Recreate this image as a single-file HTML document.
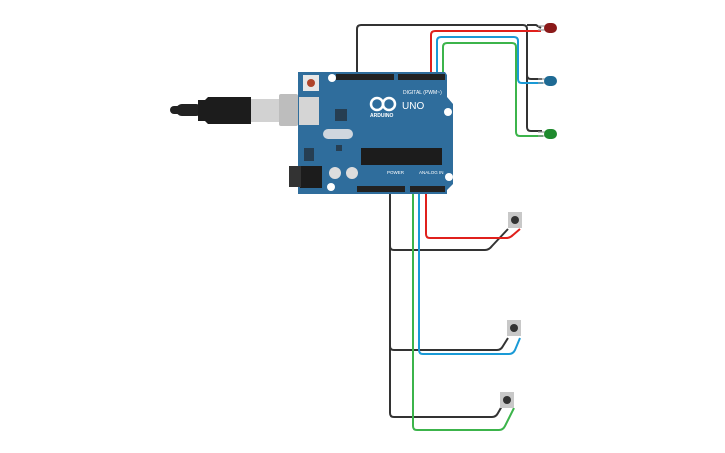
<!DOCTYPE html>
<html><head><style>body{margin:0;background:#fff}svg{display:block}</style></head>
<body>
<svg width="725" height="453" viewBox="0 0 725 453" xmlns="http://www.w3.org/2000/svg" font-family="Liberation Sans, sans-serif">
<g fill="none" stroke-width="2" stroke-linejoin="round">
<path d="M357 76 V29 Q357 25 361 25 H523 Q527 25 527 29 V127 Q527 131 531 131 H542" stroke="#333"/>
<path d="M527 75 Q527 79 531 79 H542" stroke="#333"/>
<path d="M527 25 H536 L541 28" stroke="#333"/>
<path d="M431 76 V35 Q431 31 435 31 H541" stroke="#e0201c"/>
<path d="M437 76 V41 Q437 37 441 37 H514 Q518 37 518 41 V79 Q518 83 522 83 H543" stroke="#1a9ad6"/>
<path d="M443 76 V47 Q443 43 447 43 H512 Q516 43 516 47 V132 Q516 136 520 136 H543" stroke="#3cb44b"/>
<path d="M390 190 V413 Q390 417 394 417 H492 Q496 417 498 413 L502 406" stroke="#333"/>
<path d="M390 246 Q390 250 394 250 H485 Q489 250 492 246 L508 229" stroke="#333"/>
<path d="M390 346 Q390 350 394 350 H497 Q501 350 503 346 L508 338" stroke="#333"/>
<path d="M426 190 V234 Q426 238 430 238 H506 Q510 238 513 235 L520 229" stroke="#e0201c"/>
<path d="M419 190 V350 Q419 354 423 354 H509 Q513 354 515 350 L520 338" stroke="#1a9ad6"/>
<path d="M413 190 V426 Q413 430 417 430 H499 Q503 430 505 426 L514 408" stroke="#3cb44b"/>
</g>
<g stroke="#999" stroke-width="1.2"><line x1="538" y1="26" x2="546" y2="26"/><line x1="538" y1="30" x2="546" y2="30"/><line x1="538" y1="79" x2="546" y2="79"/><line x1="538" y1="83" x2="546" y2="83"/><line x1="538" y1="132" x2="546" y2="132"/><line x1="538" y1="136" x2="546" y2="136"/></g>
<rect x="544" y="23" width="13" height="10" rx="5" fill="#8b1a1a"/>
<rect x="544" y="76" width="13" height="10" rx="5" fill="#1e6a94"/>
<rect x="544" y="129" width="13" height="10" rx="5" fill="#1f8a2e"/>
<g>
<rect x="508" y="212" width="14" height="16" fill="#c8c8c8"/><circle cx="515" cy="220" r="4" fill="#333"/>
<rect x="507" y="320" width="14" height="16" fill="#c8c8c8"/><circle cx="514" cy="328" r="4" fill="#333"/>
<rect x="500" y="392" width="14" height="16" fill="#c8c8c8"/><circle cx="507" cy="400" r="4" fill="#333"/>
</g>
<rect x="176" y="104" width="26" height="12" rx="6" fill="#222"/>
<rect x="170" y="106" width="12" height="8" rx="4" fill="#222"/>
<path d="M198 100 H205 L208 97 H251 V124 H208 L205 121 H198 Z" fill="#1c1c1c"/>
<rect x="251" y="99" width="30" height="23" fill="#d2d2d2"/>
<rect x="279" y="94" width="19" height="32" rx="2" fill="#bdbdbd"/>
<path d="M298 72 H445 L447 75 V97 L453 104 V184 L447 190 V194 H298 Z" fill="#2f6d9c"/>
<rect x="299" y="97" width="20" height="28" fill="#d5d5d5"/>
<rect x="303" y="75" width="16" height="16" fill="#e7e7e7"/><circle cx="311" cy="83" r="4" fill="#b0452b"/>
<circle cx="332" cy="78" r="4" fill="#fff"/><circle cx="448" cy="112" r="4" fill="#fff"/><circle cx="449" cy="177" r="4" fill="#fff"/><circle cx="331" cy="187" r="4" fill="#fff"/>
<rect x="336" y="74" width="58" height="6" fill="#222"/><rect x="398" y="74" width="47" height="6" fill="#222"/>
<rect x="357" y="186" width="48" height="6" fill="#222"/><rect x="410" y="186" width="35" height="6" fill="#222"/>
<text x="403" y="94" font-size="5" fill="#fff">DIGITAL (PWM~)</text>
<circle cx="377" cy="104" r="6" fill="none" stroke="#fff" stroke-width="2.5"/><circle cx="389" cy="104" r="6" fill="none" stroke="#fff" stroke-width="2.5"/>
<text x="370" y="117" font-size="5" font-weight="bold" fill="#fff">ARDUINO</text>
<text x="402" y="109" font-size="10" fill="#fff">UNO</text>
<rect x="335" y="109" width="12" height="12" fill="#263e52"/>
<rect x="323" y="129" width="30" height="10" rx="5" fill="#cfd6de"/>
<rect x="361" y="148" width="81" height="17" fill="#1c1c1c"/>
<rect x="300" y="166" width="22" height="22" fill="#1c1c1c"/><rect x="289" y="166" width="12" height="21" fill="#333"/>
<circle cx="335" cy="173" r="6" fill="#ddd"/><circle cx="352" cy="173" r="6" fill="#ddd"/>
<rect x="304" y="148" width="10" height="13" fill="#263e52"/>
<rect x="336" y="145" width="6" height="6" fill="#263e52"/>
<text x="387" y="174" font-size="4.5" fill="#fff">POWER</text><text x="419" y="174" font-size="4.5" fill="#fff">ANALOG IN</text>
</svg>
</body></html>
